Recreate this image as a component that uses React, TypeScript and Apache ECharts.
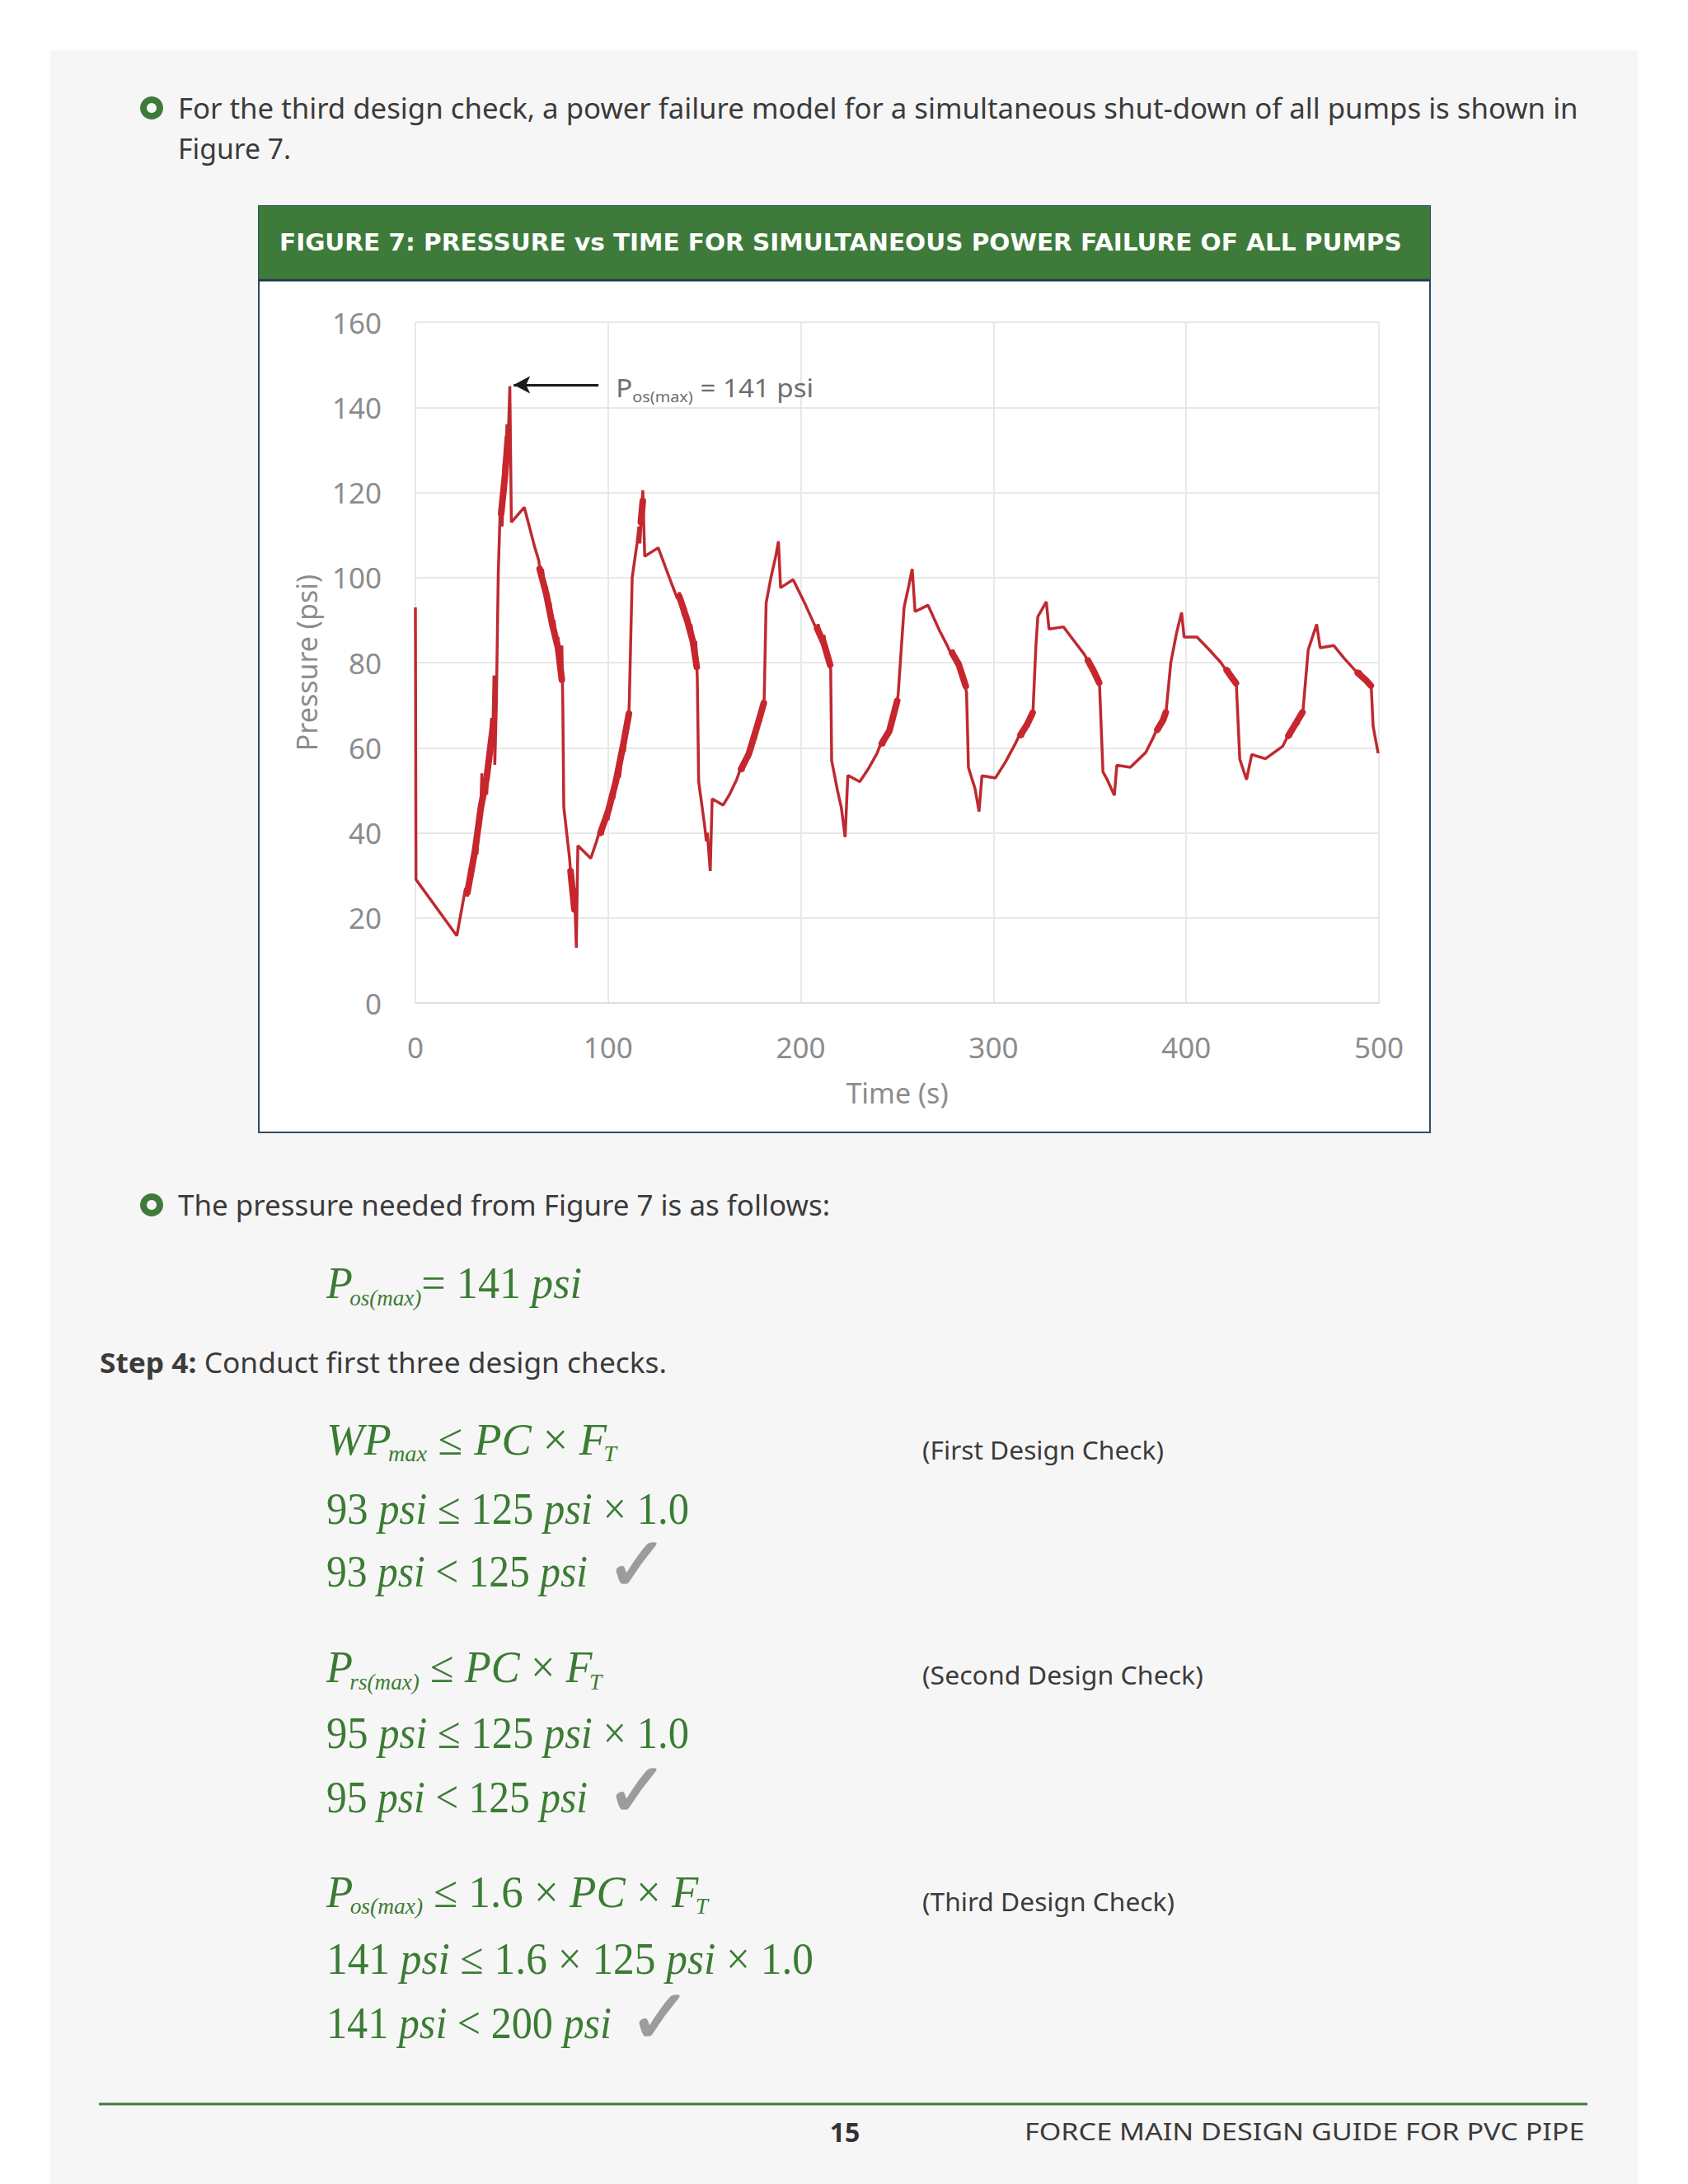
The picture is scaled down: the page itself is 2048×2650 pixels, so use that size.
import React, { useEffect, useRef } from 'react';
import * as echarts from 'echarts';

// ---------------- data ----------------
// Pressure (psi) vs time (s), one array per surge cycle, as [time, pressure]
const surgeCycle1: [number, number][] = [
  [0, 93], [0.3, 29], [21.5, 15.8], [24, 22], [26, 27], [27, 25], [28.5, 32], [29.5, 30], [31, 37], [32, 35],
  [33, 44], [33.5, 41], [34.5, 54], [35, 47], [36, 53], [37, 49], [38, 58], [38.5, 55], [39.5, 67], [40, 60],
  [40.8, 77], [41.2, 56], [42, 70], [43, 101], [44, 116], [45, 112], [46, 127], [46.5, 120], [47.5, 136], [48, 130],
  [49, 145], [49.8, 113], [56.5, 116.5], [62, 107], [64, 104], [65.5, 99], [66, 102], [67.5, 95], [68, 98], [69.5, 91],
  [70, 94], [71.5, 87], [72, 90], [73.5, 83], [74, 86], [75.5, 77], [76, 84], [76.5, 70], [77, 46], [80, 34],
  [81, 28], [82, 24], [82.5, 27], [83.5, 13], [84.3, 37], [91, 34],
];
const surgeCycle2: [number, number][] = [
  [94, 38], [96, 41], [97, 39.5], [99, 45], [100, 43], [102, 50], [103, 48], [105, 55], [106, 53], [108, 62],
  [108.5, 59], [110, 68], [110.5, 65], [111, 71], [112.5, 100], [115, 108], [116, 112], [116.5, 108], [118, 120.5], [119, 105],
  [126, 107], [133, 98.5], [136, 95], [137, 96.5], [139, 91], [140, 93], [142, 87], [143, 89], [145, 83], [145.5, 85],
  [146.3, 76], [147, 52], [150, 42], [151, 38], [151.5, 40], [153, 31], [154, 48], [159.7, 46.5],
];
const surgeCycle3: [number, number][] = [
  [163, 49], [166.8, 52.6], [169, 55.5], [170, 54.5], [172, 58.5], [173, 57.5], [175.5, 63.5], [176.5, 62], [178, 67], [179, 66],
  [181, 71.5], [182, 94], [184.5, 100], [187, 105], [188.4, 108.5], [189.5, 97.6], [196, 99.5], [202, 94], [206, 90], [208, 88],
  [209, 89], [211, 85], [212, 86.5], [214, 81], [215.5, 78.5], [216, 57], [219, 50], [221, 46], [223, 39], [224.4, 53.5], [230.6, 52],
];
const surgeCycle4: [number, number][] = [
  [235, 55], [239.5, 58.6], [242, 61.5], [243, 60.5], [245, 64], [246, 63], [248.3, 67], [250.5, 72.4], [253.6, 93], [256, 98],
  [257.8, 102], [259.3, 92], [266, 93.5], [272, 87.5], [276, 84], [278, 82], [279, 83], [281, 79.5], [282, 80.5], [284, 77],
  [286, 73], [287, 55.3], [290.4, 50.4], [292.5, 45], [294, 53.4], [301, 52.9],
];
const surgeCycle5: [number, number][] = [
  [306, 56.5], [311.6, 61.2], [314, 63.5], [315, 62.5], [317, 66], [318, 65], [320.5, 68.7], [322, 84], [323, 90.8], [327.4, 94.3],
  [328.8, 87.9], [336.3, 88.4], [342, 85], [347, 82], [349, 80.5], [351, 78], [352, 79], [354, 75.5], [355, 75], [356.8, 54.3],
  [359, 52.5], [362.7, 48.8], [364, 55.9], [371, 55.4],
];
const surgeCycle6: [number, number][] = [
  [379, 58.9], [383, 62.5], [385, 64.5], [386, 64], [388, 67], [389.6, 68.7], [392, 80], [395, 87], [397.6, 91.8], [398.9, 86],
  [405.6, 86], [412, 83], [418, 80], [421, 78], [422, 78.5], [424, 76], [426, 75], [427.8, 57.3], [431.3, 52.5], [434, 58.4], [441.1, 57.4],
];
const surgeCycle7: [number, number][] = [
  [446, 59], [450, 60.3], [453, 63], [454, 62.5], [457, 66], [458, 65.5], [460.6, 68.7], [463.3, 83], [467.7, 89], [469.5, 83.5],
  [476.6, 84], [482, 81], [486, 79], [489, 77.5], [490, 78], [493, 76], [496, 74.5], [497, 65], [499.6, 58.7],
];

// stretches where the trace oscillates rapidly (drawn as a dense band), [time, pressure]
const oscillationBands: [number, number][][] = [
  [[27, 26], [31, 36], [34, 46], [37, 53], [40.5, 66]],
  [[44.5, 115], [46.5, 124], [48, 133]],
  [[64.5, 102], [68, 96], [71, 89], [74, 83.5], [76, 76]],
  [[80.5, 31], [82.5, 22]],
  [[96, 40], [100, 45], [104, 52], [108, 61], [110.8, 68]],
  [[117, 113], [118, 118]],
  [[137, 95.5], [141, 90], [144, 85], [146, 79]],
  [[169, 55], [173, 58.5], [177, 64.5], [180.8, 70.5]],
  [[208.5, 88], [212, 84.5], [215.2, 79.5]],
  [[242, 61], [246, 64], [250, 71]],
  [[278.5, 82.3], [282, 79.5], [285.6, 74.5]],
  [[314, 63], [317.5, 65.5], [320.3, 68.2]],
  [[349, 80.5], [352, 78], [354.8, 75.3]],
  [[385, 64.2], [388, 66.5], [389.4, 68.3]],
  [[421, 78.2], [424, 76.3], [425.8, 75.2]],
  [[453, 62.8], [457, 65.8], [460.3, 68.3]],
  [[489, 77.6], [493, 76], [495.8, 74.6]],
];

const timeRange = [0, 500];
const timeStep = 100;
const pressureRange = [0, 160];
const pressureStep = 20;

// annotation arrow (data space): from label side to just right of the peak
const arrowFrom: [number, number] = [95, 145.3];
const arrowTo: [number, number] = [51, 145.3];
const labelAnchor: [number, number] = [104, 145];

// ---------------- text helpers ----------------
const measureCtx = typeof document !== 'undefined' ? document.createElement('canvas').getContext('2d') : null;
function measure(t: string, fam: string, size: number, it = false, b = false) {
  if (!measureCtx) return t.length * size * 0.5;
  measureCtx.font = `${it ? 'italic ' : ''}${b ? 'bold ' : ''}${size}px "${fam}"`;
  return measureCtx.measureText(t).width;
}

type Run = { t: string; it?: boolean; b?: boolean; sub?: boolean };
type LineOpt = {
  x: number; y: number; fam: string; size: number; color: string; ratio: number;
  target?: number; align?: 'left' | 'center'; subScale?: number; subShift?: number; subKern?: number;
};

function textLine(o: LineOpt, runs: Run[]) {
  let cx = 0;
  const children: any[] = [];
  let prevItalic = false;
  for (const r of runs) {
    const size = r.sub ? Math.round(o.size * (o.subScale ?? 0.52)) : o.size;
    const dy = o.ratio * (o.size - size) + (r.sub ? o.size * (o.subShift ?? 0.15) : 0);
    if (r.sub && prevItalic) cx -= o.size * (o.subKern ?? 0.07);
    const w = measure(r.t, o.fam, size, r.it, r.b);
    const trimmedStart = r.t.replace(/^\s+/, '');
    const lead = r.t.length - trimmedStart.length;
    const leadW = lead ? measure(r.t.slice(0, lead), o.fam, size, r.it, r.b) : 0;
    const txt = r.t.trim();
    if (txt.length) {
      children.push({
        type: 'text', x: cx + leadW, y: dy, z: 5, silent: true,
        style: {
          text: txt, fontFamily: o.fam, fontSize: size,
          fontStyle: r.it ? 'italic' : 'normal', fontWeight: r.b ? 'bold' : 'normal',
          fill: o.color, align: 'left', verticalAlign: 'middle',
        },
      });
    }
    cx += w;
    prevItalic = !!r.it && !r.sub;
  }
  const sx = o.target ? o.target / cx : 1;
  const gx = o.align === 'center' ? o.x - (cx * sx) / 2 : o.x;
  return { type: 'group', x: gx, y: o.y, scaleX: sx, children };
}

const BODY = { fam: 'Noto Sans', size: 34, color: '#3b3b3b', ratio: 0.388 };
const MATH = { fam: 'Liberation Serif', size: 54, color: '#3b7c34', ratio: 0.3375 };
const GREEN = '#3e7b3a';

function pageGraphics(ax: number, ay: number) {
  const els: any[] = [];
  // page & figure frame
  els.push({ type: 'rect', z: -20, silent: true, shape: { x: 61, y: 61, width: 1926, height: 2589 }, style: { fill: '#f7f6f6' } });
  els.push({ type: 'rect', z: -10, silent: true, shape: { x: 314, y: 250, width: 1421, height: 1124 }, style: { fill: '#ffffff', stroke: '#2d4d63', lineWidth: 2 } });
  els.push({ type: 'rect', z: -5, silent: true, shape: { x: 314, y: 250, width: 1421, height: 89 }, style: { fill: GREEN } });
  els.push({ type: 'line', z: -5, silent: true, shape: { x1: 314, y1: 340, x2: 1735, y2: 340 }, style: { stroke: '#1f3d52', lineWidth: 3 } });

  // bullets
  els.push({ type: 'ring', z: 5, silent: true, shape: { cx: 184, cy: 131, r: 14, r0: 6 }, style: { fill: GREEN } });
  els.push({ type: 'ring', z: 5, silent: true, shape: { cx: 184, cy: 1462, r: 14, r0: 6 }, style: { fill: GREEN } });

  // body text
  els.push(textLine({ ...BODY, x: 216, y: 131, target: 1699 }, [{ t: 'For the third design check, a power failure model for a simultaneous shut-down of all pumps is shown in' }]));
  els.push(textLine({ ...BODY, x: 216, y: 180, target: 137 }, [{ t: 'Figure 7.' }]));
  els.push(textLine({ ...BODY, x: 216, y: 1462, target: 791 }, [{ t: 'The pressure needed from Figure 7 is as follows:' }]));
  els.push(textLine({ ...BODY, x: 121, y: 1653, target: 688 }, [{ t: 'Step 4:', b: true }, { t: ' Conduct first three design checks.' }]));

  // figure title
  els.push(textLine({ fam: 'DejaVu Sans', size: 29, color: '#ffffff', ratio: 0.38, x: 339, y: 294, target: 1362 },
    [{ t: 'FIGURE 7: PRESSURE vs TIME FOR SIMULTANEOUS POWER FAILURE OF ALL PUMPS', b: true }]));

  // formulas
  els.push(textLine({ ...MATH, x: 396, y: 1557, target: 310 }, [{ t: 'P', it: true }, { t: 'os(max)', it: true, sub: true }, { t: '= 141 ' }, { t: 'psi', it: true }]));

  const capA = (y: number, sub: string, mid: string, target: number) =>
    textLine({ ...MATH, x: 396, y, target }, [
      ...(sub === 'max' ? [{ t: 'WP', it: true }] : [{ t: 'P', it: true }]),
      { t: sub, it: true, sub: true }, { t: mid }, { t: 'PC', it: true }, { t: ' × ' }, { t: 'F', it: true }, { t: 'T', it: true, sub: true },
    ]);
  const lineB = (y: number, lhs: string, mid: string, target: number) =>
    textLine({ ...MATH, x: 396, y, target }, [{ t: lhs + ' ' }, { t: 'psi', it: true }, { t: mid }, { t: 'psi', it: true }, { t: ' × 1.0' }]);
  const lineC = (y: number, lhs: string, rhs: string, target: number) =>
    textLine({ ...MATH, x: 396, y, target }, [{ t: lhs + ' ' }, { t: 'psi', it: true }, { t: ' < ' + rhs + ' ' }, { t: 'psi', it: true }]);
  const check = (x: number, y: number) => ({
    type: 'text', x, y, z: 5, silent: true,
    style: { text: '✓', fontFamily: 'DejaVu Sans', fontSize: 92, fill: '#9c9c9c', stroke: '#9c9c9c', lineWidth: 1.5, align: 'center', verticalAlign: 'middle' },
  });

  els.push(capA(1747, 'max', ' ≤ ', 352));
  els.push(lineB(1830, '93', ' ≤ 125 ', 440));
  els.push(lineC(1907, '93', '125', 317));
  els.push(check(773, 1898));

  els.push(capA(2023, 'rs(max)', ' ≤ ', 334));
  els.push(lineB(2102, '95', ' ≤ 125 ', 440));
  els.push(lineC(2181, '95', '125', 317));
  els.push(check(773, 2172));

  els.push(capA(2296, 'os(max)', ' ≤ 1.6 × ', 463));
  els.push(lineB(2377, '141', ' ≤ 1.6 × 125 ', 591));
  els.push(lineC(2455, '141', '200', 346));
  els.push(check(801, 2447));

  // right-hand notes
  const NOTE = { fam: 'Noto Sans', size: 30, color: '#3b3b3b', ratio: 0.388 };
  els.push(textLine({ ...NOTE, x: 1119, y: 1759, target: 293 }, [{ t: '(First Design Check)' }]));
  els.push(textLine({ ...NOTE, x: 1119, y: 2032, target: 341 }, [{ t: '(Second Design Check)' }]));
  els.push(textLine({ ...NOTE, x: 1119, y: 2307, target: 306 }, [{ t: '(Third Design Check)' }]));

  // footer
  els.push({ type: 'line', z: 5, silent: true, shape: { x1: 120, y1: 2553, x2: 1926, y2: 2553 }, style: { stroke: GREEN, lineWidth: 3 } });
  els.push(textLine({ fam: 'Noto Sans', size: 32, color: '#333333', ratio: 0.388, x: 1025, y: 2586, align: 'center' }, [{ t: '15', b: true }]));
  els.push(textLine({ fam: 'Noto Sans', size: 29, color: '#3b3b3b', ratio: 0.388, x: 1243, y: 2586, target: 680 }, [{ t: 'FORCE MAIN DESIGN GUIDE FOR PVC PIPE' }]));

  // chart annotation label
  els.push(textLine({ fam: 'Noto Sans', size: 30, color: '#6e6e6e', ratio: 0.388, x: ax, y: ay, target: 240, subScale: 0.6, subShift: 0.2 },
    [{ t: 'P' }, { t: 'os(max)', sub: true }, { t: ' = 141 psi' }]));
  return els;
}

export default function App() {
  const ref = useRef<HTMLDivElement>(null);
  useEffect(() => {
    if (!ref.current) return;
    const chart = echarts.init(ref.current, null, { renderer: 'svg', width: 2048, height: 2650 });
    const trace = [...surgeCycle1, ...surgeCycle2, ...surgeCycle3, ...surgeCycle4, ...surgeCycle5, ...surgeCycle6, ...surgeCycle7];
    const axisText = { color: '#8c8c8c', fontFamily: 'Noto Sans', fontSize: 35 };
    const bandSeries = oscillationBands.map((band) => ({
      type: 'line',
      data: band,
      symbol: 'none',
      showSymbol: false,
      silent: true,
      lineStyle: { color: '#c8262d', width: 8, cap: 'round' },
      z: 4,
    }));
    chart.setOption({
      animation: false,
      backgroundColor: '#ffffff',
      grid: { left: 504, top: 391, width: 1169, height: 826, containLabel: false },
      xAxis: {
        type: 'value', min: timeRange[0], max: timeRange[1], interval: timeStep,
        name: 'Time (s)', nameLocation: 'middle', nameGap: 92,
        nameTextStyle: { ...axisText, fontSize: 34 },
        axisLine: { show: true, lineStyle: { color: '#e0e0e0', width: 2 } },
        axisTick: { show: false },
        axisLabel: { ...axisText, margin: 36 },
        splitLine: { show: true, lineStyle: { color: '#e8e8e8', width: 2 } },
      },
      yAxis: {
        type: 'value', min: pressureRange[0], max: pressureRange[1], interval: pressureStep,
        name: 'Pressure (psi)', nameLocation: 'middle', nameGap: 115, nameRotate: 90,
        nameTextStyle: { ...axisText, fontSize: 34 },
        axisLine: { show: false },
        axisTick: { show: false },
        axisLabel: { ...axisText, margin: 41 },
        splitLine: { show: true, lineStyle: { color: '#e8e8e8', width: 2 } },
      },
      series: [
        {
          type: 'line',
          data: trace,
          symbol: 'none',
          showSymbol: false,
          lineStyle: { color: '#be2a30', width: 3.5 },
          z: 3,
          markLine: {
            silent: true,
            symbol: ['none', 'arrow'],
            symbolSize: [16, 20],
            label: { show: false },
            lineStyle: { color: '#1a1a1a', width: 3, type: 'solid' },
            data: [[{ coord: arrowFrom }, { coord: arrowTo }]],
          },
        },
        ...bandSeries,
      ],
    });
    const p = chart.convertToPixel({ gridIndex: 0 }, labelAnchor) as number[];
    chart.setOption({ graphic: pageGraphics(p[0], p[1] + 2) });
    return () => chart.dispose();
  }, []);
  return <div ref={ref} style={{ position: 'absolute', left: 0, top: 0, width: 2048, height: 2650 }} />;
}
